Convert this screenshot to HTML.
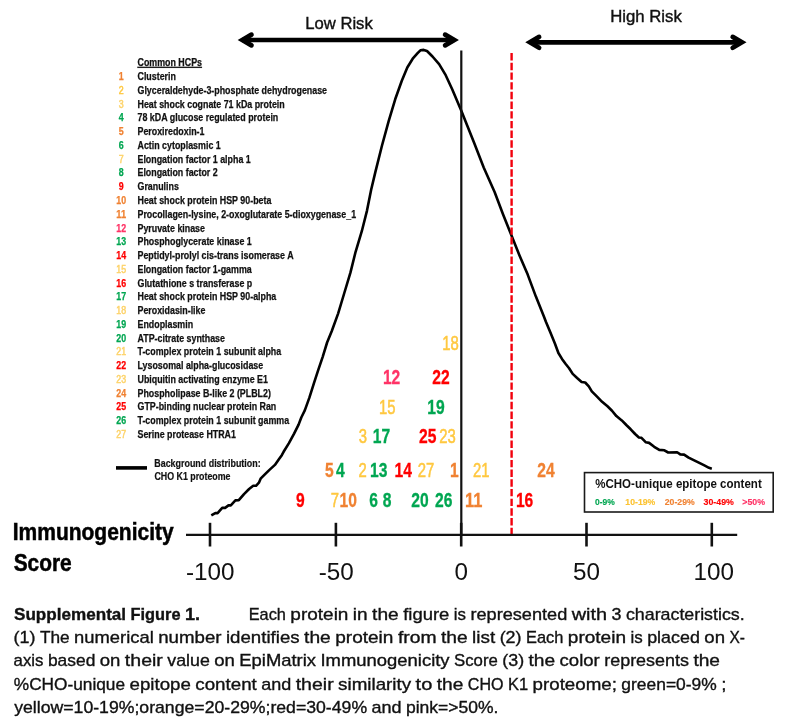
<!DOCTYPE html>
<html lang="en"><head><meta charset="utf-8"><title>Supplemental Figure 1</title>
<style>
html,body{margin:0;padding:0;background:#fff;}
body{width:785px;height:728px;overflow:hidden;}
svg{display:block;filter:blur(0.45px);}
text{font-family:"Liberation Sans",sans-serif;}
.b{font-weight:bold;}
</style></head><body>
<svg width="785" height="728" viewBox="0 0 785 728">
<rect width="785" height="728" fill="#fff"/>
<g fill="none" stroke="#000" stroke-width="4.7"><line x1="242.3" y1="40" x2="454.3" y2="40"/><polyline stroke-linecap="round" stroke-linejoin="miter" points="251.5,34.6 242.3,40 251.5,45.4"/><polyline stroke-linecap="round" stroke-linejoin="miter" points="445.1,34.6 454.3,40 445.1,45.4"/></g>
<g fill="none" stroke="#000" stroke-width="4.7"><line x1="529.9" y1="42.3" x2="741.9" y2="42.3"/><polyline stroke-linecap="round" stroke-linejoin="miter" points="539.1,36.9 529.9,42.3 539.1,47.7"/><polyline stroke-linecap="round" stroke-linejoin="miter" points="732.7,36.9 741.9,42.3 732.7,47.7"/></g>
<text x="305.27" y="28.6" font-size="16.8" textLength="67.46" lengthAdjust="spacingAndGlyphs" fill="#111" stroke="#111" stroke-width="0.4">Low Risk</text>
<text x="610.26" y="22.3" font-size="16.8" textLength="71.57" lengthAdjust="spacingAndGlyphs" fill="#111" stroke="#111" stroke-width="0.4">High Risk</text>
<path d="M211.3,515.4 L215.3,513.1 L217.6,513.1 L222.2,507.9 L225.1,507.9 L228.5,505.4 L230.8,505.4 L235.4,500.4 L238.8,500.2 L244,494.1 L249.1,489 L253.2,485.8 L256,485.8 L258.9,482.7 L260.6,478.7 L264.6,474.7 L269.2,470.1 L274.9,464.9 L278.9,459.2 L281.8,455.2 L283.6,451.8 L288.8,443.4 L294.1,433.6 L298.6,424.6 L301.3,417.5 L304.8,410.4 L309.3,397.9 L313.8,383.6 L318.2,370.2 L322.7,356.8 L327.1,342.5 L331.7,331.2 L338.1,313.6 L344.3,293 L350.5,272.4 L355.6,251.8 L361.8,231.2 L367,210.6 L371.1,190 L375.4,171.9 L382,145.5 L388.6,121.3 L395.2,99.3 L401.8,80.7 L407.3,67.5 L412.7,58.7 L417.6,53.2 L420.4,50.3 L423.7,49.9 L427,51 L432.5,56.5 L439.1,64.2 L445.7,75.2 L452.3,89.5 L457.8,102.6 L461.1,110.3 L467.7,126.8 L474.3,143.3 L483.7,167.5 L494.7,192.2 L503,214.2 L511.2,234.8 L519.5,255.4 L527.7,274.6 L535.9,296.6 L544.2,317.2 L545.9,321.8 L550.4,332.5 L554.8,343.2 L558.4,353 L562,358.9 L565.5,363.8 L569.1,368.2 L572.7,373.9 L577.1,378 L581.6,382 L585.2,382.5 L588.8,386.4 L591.8,391.4 L596.8,396.4 L602.1,401.8 L607.5,406.3 L612,410.7 L616.4,416.1 L621.8,420.4 L626.3,425 L630.7,429.3 L635.1,434 L638.9,437.5 L641.5,437.8 L645.9,442.3 L649.1,442.9 L654.2,446.8 L659.3,449.9 L664.4,450.3 L668.2,452.5 L677.1,452.2 L680.3,454.4 L684.1,454.6 L688.6,457.6 L693.7,460.1 L698.8,462.7 L703.9,465.2 L709,467.8 L711.8,468.7" fill="none" stroke="#000" stroke-width="2.6" stroke-linejoin="round" stroke-linecap="butt"/>
<line x1="461.3" y1="50.5" x2="461.3" y2="534" stroke="#111" stroke-width="2.2"/>
<line x1="511.6" y1="53.1" x2="511.6" y2="534" stroke="#f2000c" stroke-width="2.4" stroke-dasharray="7.4 2.286"/>
<line x1="186" y1="534.8" x2="737.2" y2="534.8" stroke="#111" stroke-width="2.3"/>
<line x1="210" y1="522.8" x2="210" y2="546.5" stroke="#111" stroke-width="2.6"/>
<line x1="335.9" y1="522.8" x2="335.9" y2="546.5" stroke="#111" stroke-width="2.6"/>
<line x1="461.2" y1="522.8" x2="461.2" y2="546.5" stroke="#111" stroke-width="2.6"/>
<line x1="586.5" y1="522.8" x2="586.5" y2="546.5" stroke="#111" stroke-width="2.6"/>
<line x1="711.8" y1="522.8" x2="711.8" y2="546.5" stroke="#111" stroke-width="2.6"/>
<text transform="translate(210.2,579.7) scale(1.055,1)" text-anchor="middle" font-size="23" fill="#111">-100</text>
<text transform="translate(336.2,579.7) scale(1.055,1)" text-anchor="middle" font-size="23" fill="#111">-50</text>
<text transform="translate(461.2,579.7) scale(1.055,1)" text-anchor="middle" font-size="23" fill="#111">0</text>
<text transform="translate(586.5,579.7) scale(1.055,1)" text-anchor="middle" font-size="23" fill="#111">50</text>
<text transform="translate(713.8,579.7) scale(1.055,1)" text-anchor="middle" font-size="23" fill="#111">100</text>
<text class="b" x="12.79" y="540.3" font-size="24" textLength="160.88" lengthAdjust="spacingAndGlyphs" fill="#000" stroke="#000" stroke-width="0.5">Immunogenicity</text>
<text class="b" x="13.63" y="570.8" font-size="24" textLength="58.06" lengthAdjust="spacingAndGlyphs" fill="#000" stroke="#000" stroke-width="0.5">Score</text>
<g class="b" font-size="10.3" stroke-width="0.25">
<text x="137.5" y="65.9" fill="#111" stroke="#111" text-decoration="underline" textLength="64.47" lengthAdjust="spacingAndGlyphs">Common HCPs</text>
<text x="118.74" y="80.10" textLength="4.93" lengthAdjust="spacingAndGlyphs" fill="#f08232" stroke="#f08232">1</text><text x="137.5" y="80.10" textLength="38.39" lengthAdjust="spacingAndGlyphs" fill="#111" stroke="#111">Clusterin</text>
<text x="118.74" y="93.86" font-weight="normal" stroke-width="0.5" textLength="4.93" lengthAdjust="spacingAndGlyphs" fill="#ffc840" stroke="#ffc840">2</text><text x="137.5" y="93.86" textLength="189.52" lengthAdjust="spacingAndGlyphs" fill="#111" stroke="#111">Glyceraldehyde-3-phosphate dehydrogenase</text>
<text x="118.74" y="107.63" font-weight="normal" stroke-width="0.5" textLength="4.93" lengthAdjust="spacingAndGlyphs" fill="#fdd36a" stroke="#fdd36a">3</text><text x="137.5" y="107.63" textLength="147.19" lengthAdjust="spacingAndGlyphs" fill="#111" stroke="#111">Heat shock cognate 71 kDa protein</text>
<text x="118.74" y="121.39" textLength="4.93" lengthAdjust="spacingAndGlyphs" fill="#00a651" stroke="#00a651">4</text><text x="137.5" y="121.39" textLength="140.78" lengthAdjust="spacingAndGlyphs" fill="#111" stroke="#111">78 kDA glucose regulated protein</text>
<text x="118.74" y="135.16" textLength="4.93" lengthAdjust="spacingAndGlyphs" fill="#f08232" stroke="#f08232">5</text><text x="137.5" y="135.16" textLength="66.95" lengthAdjust="spacingAndGlyphs" fill="#111" stroke="#111">Peroxiredoxin-1</text>
<text x="118.74" y="148.93" textLength="4.93" lengthAdjust="spacingAndGlyphs" fill="#00a651" stroke="#00a651">6</text><text x="137.5" y="148.93" textLength="83.20" lengthAdjust="spacingAndGlyphs" fill="#111" stroke="#111">Actin cytoplasmic 1</text>
<text x="118.74" y="162.69" font-weight="normal" stroke-width="0.5" textLength="4.93" lengthAdjust="spacingAndGlyphs" fill="#fdd36a" stroke="#fdd36a">7</text><text x="137.5" y="162.69" textLength="113.20" lengthAdjust="spacingAndGlyphs" fill="#111" stroke="#111">Elongation factor 1 alpha 1</text>
<text x="118.74" y="176.45" textLength="4.93" lengthAdjust="spacingAndGlyphs" fill="#00a651" stroke="#00a651">8</text><text x="137.5" y="176.45" textLength="80.22" lengthAdjust="spacingAndGlyphs" fill="#111" stroke="#111">Elongation factor 2</text>
<text x="118.74" y="190.22" textLength="4.93" lengthAdjust="spacingAndGlyphs" fill="#ff0000" stroke="#ff0000">9</text><text x="137.5" y="190.22" textLength="41.34" lengthAdjust="spacingAndGlyphs" fill="#111" stroke="#111">Granulins</text>
<text x="116.27" y="203.99" textLength="9.85" lengthAdjust="spacingAndGlyphs" fill="#f08232" stroke="#f08232">10</text><text x="137.5" y="203.99" textLength="133.89" lengthAdjust="spacingAndGlyphs" fill="#111" stroke="#111">Heat shock protein HSP 90-beta</text>
<text x="116.27" y="217.75" textLength="9.85" lengthAdjust="spacingAndGlyphs" fill="#f08232" stroke="#f08232">11</text><text x="137.5" y="217.75" textLength="218.57" lengthAdjust="spacingAndGlyphs" fill="#111" stroke="#111">Procollagen-lysine, 2-oxoglutarate 5-dioxygenase_1</text>
<text x="116.27" y="231.52" textLength="9.85" lengthAdjust="spacingAndGlyphs" fill="#ff3366" stroke="#ff3366">12</text><text x="137.5" y="231.52" textLength="67.46" lengthAdjust="spacingAndGlyphs" fill="#111" stroke="#111">Pyruvate kinase</text>
<text x="116.27" y="245.28" textLength="9.85" lengthAdjust="spacingAndGlyphs" fill="#00a651" stroke="#00a651">13</text><text x="137.5" y="245.28" textLength="114.22" lengthAdjust="spacingAndGlyphs" fill="#111" stroke="#111">Phosphoglycerate kinase 1</text>
<text x="116.27" y="259.04" textLength="9.85" lengthAdjust="spacingAndGlyphs" fill="#ff0000" stroke="#ff0000">14</text><text x="137.5" y="259.04" textLength="156.05" lengthAdjust="spacingAndGlyphs" fill="#111" stroke="#111">Peptidyl-prolyl cis-trans isomerase A</text>
<text x="116.27" y="272.81" font-weight="normal" stroke-width="0.5" textLength="9.85" lengthAdjust="spacingAndGlyphs" fill="#fdd36a" stroke="#fdd36a">15</text><text x="137.5" y="272.81" textLength="114.19" lengthAdjust="spacingAndGlyphs" fill="#111" stroke="#111">Elongation factor 1-gamma</text>
<text x="116.27" y="286.58" textLength="9.85" lengthAdjust="spacingAndGlyphs" fill="#ff0000" stroke="#ff0000">16</text><text x="137.5" y="286.58" textLength="114.69" lengthAdjust="spacingAndGlyphs" fill="#111" stroke="#111">Glutathione s transferase p</text>
<text x="116.27" y="300.34" textLength="9.85" lengthAdjust="spacingAndGlyphs" fill="#00a651" stroke="#00a651">17</text><text x="137.5" y="300.34" textLength="138.81" lengthAdjust="spacingAndGlyphs" fill="#111" stroke="#111">Heat shock protein HSP 90-alpha</text>
<text x="116.27" y="314.11" font-weight="normal" stroke-width="0.5" textLength="9.85" lengthAdjust="spacingAndGlyphs" fill="#fdd36a" stroke="#fdd36a">18</text><text x="137.5" y="314.11" textLength="67.94" lengthAdjust="spacingAndGlyphs" fill="#111" stroke="#111">Peroxidasin-like</text>
<text x="116.27" y="327.87" textLength="9.85" lengthAdjust="spacingAndGlyphs" fill="#00a651" stroke="#00a651">19</text><text x="137.5" y="327.87" textLength="55.61" lengthAdjust="spacingAndGlyphs" fill="#111" stroke="#111">Endoplasmin</text>
<text x="116.27" y="341.63" textLength="9.85" lengthAdjust="spacingAndGlyphs" fill="#00a651" stroke="#00a651">20</text><text x="137.5" y="341.63" textLength="87.46" lengthAdjust="spacingAndGlyphs" fill="#111" stroke="#111">ATP-citrate synthase</text>
<text x="116.27" y="355.40" font-weight="normal" stroke-width="0.5" textLength="9.85" lengthAdjust="spacingAndGlyphs" fill="#fdd36a" stroke="#fdd36a">21</text><text x="137.5" y="355.40" textLength="143.71" lengthAdjust="spacingAndGlyphs" fill="#111" stroke="#111">T-complex protein 1 subunit alpha</text>
<text x="116.27" y="369.16" textLength="9.85" lengthAdjust="spacingAndGlyphs" fill="#ff0000" stroke="#ff0000">22</text><text x="137.5" y="369.16" textLength="125.69" lengthAdjust="spacingAndGlyphs" fill="#111" stroke="#111">Lysosomal alpha-glucosidase</text>
<text x="116.27" y="382.93" font-weight="normal" stroke-width="0.5" textLength="9.85" lengthAdjust="spacingAndGlyphs" fill="#fdd36a" stroke="#fdd36a">23</text><text x="137.5" y="382.93" textLength="130.43" lengthAdjust="spacingAndGlyphs" fill="#111" stroke="#111">Ubiquitin activating enzyme E1</text>
<text x="116.27" y="396.70" textLength="9.85" lengthAdjust="spacingAndGlyphs" fill="#f08232" stroke="#f08232">24</text><text x="137.5" y="396.70" textLength="133.38" lengthAdjust="spacingAndGlyphs" fill="#111" stroke="#111">Phospholipase B-like 2 (PLBL2)</text>
<text x="116.27" y="410.46" textLength="9.85" lengthAdjust="spacingAndGlyphs" fill="#ff0000" stroke="#ff0000">25</text><text x="137.5" y="410.46" textLength="138.78" lengthAdjust="spacingAndGlyphs" fill="#111" stroke="#111">GTP-binding nuclear protein Ran</text>
<text x="116.27" y="424.23" textLength="9.85" lengthAdjust="spacingAndGlyphs" fill="#00a651" stroke="#00a651">26</text><text x="137.5" y="424.23" textLength="151.59" lengthAdjust="spacingAndGlyphs" fill="#111" stroke="#111">T-complex protein 1 subunit gamma</text>
<text x="116.27" y="437.99" font-weight="normal" stroke-width="0.5" textLength="9.85" lengthAdjust="spacingAndGlyphs" fill="#fdd36a" stroke="#fdd36a">27</text><text x="137.5" y="437.99" textLength="98.45" lengthAdjust="spacingAndGlyphs" fill="#111" stroke="#111">Serine protease HTRA1</text>
</g>
<line x1="116" y1="467.9" x2="147" y2="467.9" stroke="#000" stroke-width="3.6"/>
<text class="b" x="154.27" y="466.6" font-size="10.2" textLength="106.36" lengthAdjust="spacingAndGlyphs" fill="#111" stroke="#111" stroke-width="0.2">Background distribution:</text>
<text class="b" x="154.45" y="479.5" font-size="10.2" textLength="76.08" lengthAdjust="spacingAndGlyphs" fill="#111" stroke="#111" stroke-width="0.2">CHO K1 proteome</text>
<text x="442.16" y="349.8" font-size="19.8" textLength="16.53" lengthAdjust="spacingAndGlyphs" fill="#ffc840" stroke="#ffc840" stroke-width="0.55">18</text>
<text class="b" x="382.93" y="383.9" font-size="19.8" textLength="17.40" lengthAdjust="spacingAndGlyphs" fill="#ff3366" stroke="#ff3366" stroke-width="0.3">12</text>
<text class="b" x="432.34" y="383.9" font-size="19.8" textLength="17.40" lengthAdjust="spacingAndGlyphs" fill="#ff0000" stroke="#ff0000" stroke-width="0.3">22</text>
<text x="379.08" y="413.6" font-size="19.8" textLength="16.53" lengthAdjust="spacingAndGlyphs" fill="#ffc840" stroke="#ffc840" stroke-width="0.55">15</text>
<text class="b" x="427.36" y="413.6" font-size="19.8" textLength="17.40" lengthAdjust="spacingAndGlyphs" fill="#00a651" stroke="#00a651" stroke-width="0.3">19</text>
<text x="358.77" y="442.6" font-size="19.8" textLength="8.26" lengthAdjust="spacingAndGlyphs" fill="#ffc840" stroke="#ffc840" stroke-width="0.55">3</text>
<text class="b" x="372.81" y="442.6" font-size="19.8" textLength="17.40" lengthAdjust="spacingAndGlyphs" fill="#00a651" stroke="#00a651" stroke-width="0.3">17</text>
<text class="b" x="419.00" y="442.6" font-size="19.8" textLength="17.40" lengthAdjust="spacingAndGlyphs" fill="#ff0000" stroke="#ff0000" stroke-width="0.3">25</text>
<text x="439.25" y="442.6" font-size="19.8" textLength="16.53" lengthAdjust="spacingAndGlyphs" fill="#ffc840" stroke="#ffc840" stroke-width="0.55">23</text>
<text class="b" x="325.08" y="477.0" font-size="19.8" textLength="8.70" lengthAdjust="spacingAndGlyphs" fill="#f08232" stroke="#f08232" stroke-width="0.3">5</text>
<text class="b" x="336.07" y="477.0" font-size="19.8" textLength="8.70" lengthAdjust="spacingAndGlyphs" fill="#00a651" stroke="#00a651" stroke-width="0.3">4</text>
<text x="358.46" y="477.0" font-size="19.8" textLength="8.26" lengthAdjust="spacingAndGlyphs" fill="#ffc840" stroke="#ffc840" stroke-width="0.55">2</text>
<text class="b" x="370.05" y="477.0" font-size="19.8" textLength="17.40" lengthAdjust="spacingAndGlyphs" fill="#00a651" stroke="#00a651" stroke-width="0.3">13</text>
<text class="b" x="394.51" y="477.0" font-size="19.8" textLength="17.40" lengthAdjust="spacingAndGlyphs" fill="#ff0000" stroke="#ff0000" stroke-width="0.3">14</text>
<text x="417.85" y="477.0" font-size="19.8" textLength="16.53" lengthAdjust="spacingAndGlyphs" fill="#ffc840" stroke="#ffc840" stroke-width="0.55">27</text>
<text class="b" x="449.92" y="477.0" font-size="19.8" textLength="8.70" lengthAdjust="spacingAndGlyphs" fill="#f08232" stroke="#f08232" stroke-width="0.3">1</text>
<text x="472.91" y="477.0" font-size="19.8" textLength="16.53" lengthAdjust="spacingAndGlyphs" fill="#ffc840" stroke="#ffc840" stroke-width="0.55">21</text>
<text class="b" x="537.27" y="477.0" font-size="19.8" textLength="17.40" lengthAdjust="spacingAndGlyphs" fill="#f08232" stroke="#f08232" stroke-width="0.3">24</text>
<text class="b" x="295.92" y="506.5" font-size="19.8" textLength="8.70" lengthAdjust="spacingAndGlyphs" fill="#ff0000" stroke="#ff0000" stroke-width="0.3">9</text>
<text x="330.68" y="506.5" font-size="19.8" textLength="8.26" lengthAdjust="spacingAndGlyphs" fill="#ffc840" stroke="#ffc840" stroke-width="0.55">7</text>
<text class="b" x="339.59" y="506.5" font-size="19.8" textLength="17.40" lengthAdjust="spacingAndGlyphs" fill="#f08232" stroke="#f08232" stroke-width="0.3">10</text>
<text class="b" x="369.30" y="506.5" font-size="19.8" textLength="8.70" lengthAdjust="spacingAndGlyphs" fill="#00a651" stroke="#00a651" stroke-width="0.3">6</text>
<text class="b" x="382.64" y="506.5" font-size="19.8" textLength="8.70" lengthAdjust="spacingAndGlyphs" fill="#00a651" stroke="#00a651" stroke-width="0.3">8</text>
<text class="b" x="411.35" y="506.5" font-size="19.8" textLength="17.40" lengthAdjust="spacingAndGlyphs" fill="#00a651" stroke="#00a651" stroke-width="0.3">20</text>
<text class="b" x="435.01" y="506.5" font-size="19.8" textLength="17.40" lengthAdjust="spacingAndGlyphs" fill="#00a651" stroke="#00a651" stroke-width="0.3">26</text>
<text class="b" x="465.02" y="506.5" font-size="19.8" textLength="17.40" lengthAdjust="spacingAndGlyphs" fill="#f08232" stroke="#f08232" stroke-width="0.3">11</text>
<text class="b" x="515.90" y="506.5" font-size="19.8" textLength="17.40" lengthAdjust="spacingAndGlyphs" fill="#ff0000" stroke="#ff0000" stroke-width="0.3">16</text>
<rect x="584.5" y="472.6" width="188.7" height="39.4" fill="#fff" stroke="#1a1a1a" stroke-width="1.6"/>
<text class="b" x="595.17" y="487.9" font-size="13.3" textLength="166.57" lengthAdjust="spacingAndGlyphs" fill="#111">%CHO-unique epitope content</text>
<text class="b" x="595.02" y="504.8" font-size="9.8" textLength="19.87" lengthAdjust="spacingAndGlyphs" fill="#00a651" stroke="#00a651" stroke-width="0.15">0-9%</text>
<text class="b" x="625.35" y="504.8" font-size="9.8" textLength="29.94" lengthAdjust="spacingAndGlyphs" fill="#fcc331" stroke="#fcc331" stroke-width="0.15">10-19%</text>
<text class="b" x="664.81" y="504.8" font-size="9.8" textLength="29.88" lengthAdjust="spacingAndGlyphs" fill="#f08232" stroke="#f08232" stroke-width="0.15">20-29%</text>
<text class="b" x="703.60" y="504.8" font-size="9.8" textLength="30.29" lengthAdjust="spacingAndGlyphs" fill="#ff0000" stroke="#ff0000" stroke-width="0.15">30-49%</text>
<text class="b" x="742.32" y="504.8" font-size="9.8" textLength="22.77" lengthAdjust="spacingAndGlyphs" fill="#ff3366" stroke="#ff3366" stroke-width="0.15">&gt;50%</text>
<g font-size="16.6" fill="#111" stroke="#111" stroke-width="0.35">
<text y="619.6" class="b"> <tspan x="14.01" textLength="112.14" lengthAdjust="spacingAndGlyphs">Supplemental</tspan> <tspan x="130.55" textLength="49.97" lengthAdjust="spacingAndGlyphs">Figure</tspan> <tspan x="184.92" textLength="15.09" lengthAdjust="spacingAndGlyphs">1.</tspan> </text>
<text y="619.6"> <tspan x="248.73" textLength="37.22" lengthAdjust="spacingAndGlyphs">Each</tspan> <tspan x="290.38" textLength="58.06" lengthAdjust="spacingAndGlyphs">protein</tspan> <tspan x="352.88" textLength="14.80" lengthAdjust="spacingAndGlyphs">in</tspan> <tspan x="372.10" textLength="26.62" lengthAdjust="spacingAndGlyphs">the</tspan> <tspan x="403.15" textLength="46.23" lengthAdjust="spacingAndGlyphs">figure</tspan> <tspan x="453.82" textLength="12.17" lengthAdjust="spacingAndGlyphs">is</tspan> <tspan x="470.41" textLength="96.90" lengthAdjust="spacingAndGlyphs">represented</tspan> <tspan x="571.75" textLength="35.38" lengthAdjust="spacingAndGlyphs">with</tspan> <tspan x="611.56" textLength="9.94" lengthAdjust="spacingAndGlyphs">3</tspan> <tspan x="625.92" textLength="118.80" lengthAdjust="spacingAndGlyphs">characteristics.</tspan> </text>
<text y="643.0"> <tspan x="13.62" textLength="21.90" lengthAdjust="spacingAndGlyphs">(1)</tspan> <tspan x="39.97" textLength="29.70" lengthAdjust="spacingAndGlyphs">The</tspan> <tspan x="74.11" textLength="79.62" lengthAdjust="spacingAndGlyphs">numerical</tspan> <tspan x="158.18" textLength="63.35" lengthAdjust="spacingAndGlyphs">number</tspan> <tspan x="225.98" textLength="73.63" lengthAdjust="spacingAndGlyphs">identifies</tspan> <tspan x="304.06" textLength="26.71" lengthAdjust="spacingAndGlyphs">the</tspan> <tspan x="335.21" textLength="58.25" lengthAdjust="spacingAndGlyphs">protein</tspan> <tspan x="397.91" textLength="38.62" lengthAdjust="spacingAndGlyphs">from</tspan> <tspan x="440.98" textLength="26.71" lengthAdjust="spacingAndGlyphs">the</tspan> <tspan x="472.14" textLength="23.09" lengthAdjust="spacingAndGlyphs">list</tspan> <tspan x="499.67" textLength="21.90" lengthAdjust="spacingAndGlyphs">(2)</tspan> <tspan x="526.01" textLength="37.35" lengthAdjust="spacingAndGlyphs">Each</tspan> <tspan x="567.81" textLength="58.25" lengthAdjust="spacingAndGlyphs">protein</tspan> <tspan x="630.51" textLength="12.21" lengthAdjust="spacingAndGlyphs">is</tspan> <tspan x="647.16" textLength="52.70" lengthAdjust="spacingAndGlyphs">placed</tspan> <tspan x="704.31" textLength="20.70" lengthAdjust="spacingAndGlyphs">on</tspan> <tspan x="729.46" textLength="15.45" lengthAdjust="spacingAndGlyphs">X-</tspan> </text>
<text y="666.4"> <tspan x="13.62" textLength="29.88" lengthAdjust="spacingAndGlyphs">axis</tspan> <tspan x="47.93" textLength="47.43" lengthAdjust="spacingAndGlyphs">based</tspan> <tspan x="99.79" textLength="20.65" lengthAdjust="spacingAndGlyphs">on</tspan> <tspan x="124.87" textLength="37.97" lengthAdjust="spacingAndGlyphs">their</tspan> <tspan x="167.27" textLength="42.53" lengthAdjust="spacingAndGlyphs">value</tspan> <tspan x="214.23" textLength="20.65" lengthAdjust="spacingAndGlyphs">on</tspan> <tspan x="239.31" textLength="76.76" lengthAdjust="spacingAndGlyphs">EpiMatrix</tspan> <tspan x="320.51" textLength="129.09" lengthAdjust="spacingAndGlyphs">Immunogenicity</tspan> <tspan x="454.04" textLength="43.82" lengthAdjust="spacingAndGlyphs">Score</tspan> <tspan x="502.29" textLength="21.83" lengthAdjust="spacingAndGlyphs">(3)</tspan> <tspan x="528.56" textLength="26.63" lengthAdjust="spacingAndGlyphs">the</tspan> <tspan x="559.62" textLength="40.15" lengthAdjust="spacingAndGlyphs">color</tspan> <tspan x="604.21" textLength="84.77" lengthAdjust="spacingAndGlyphs">represents</tspan> <tspan x="693.41" textLength="26.63" lengthAdjust="spacingAndGlyphs">the</tspan> </text>
<text y="689.9"> <tspan x="13.81" textLength="111.24" lengthAdjust="spacingAndGlyphs">%CHO-unique</tspan> <tspan x="129.49" textLength="61.39" lengthAdjust="spacingAndGlyphs">epitope</tspan> <tspan x="195.32" textLength="61.45" lengthAdjust="spacingAndGlyphs">content</tspan> <tspan x="261.20" textLength="30.02" lengthAdjust="spacingAndGlyphs">and</tspan> <tspan x="295.66" textLength="38.00" lengthAdjust="spacingAndGlyphs">their</tspan> <tspan x="338.10" textLength="73.07" lengthAdjust="spacingAndGlyphs">similarity</tspan> <tspan x="415.61" textLength="16.73" lengthAdjust="spacingAndGlyphs">to</tspan> <tspan x="436.77" textLength="26.65" lengthAdjust="spacingAndGlyphs">the</tspan> <tspan x="467.86" textLength="35.69" lengthAdjust="spacingAndGlyphs">CHO</tspan> <tspan x="507.99" textLength="20.14" lengthAdjust="spacingAndGlyphs">K1</tspan> <tspan x="532.57" textLength="84.36" lengthAdjust="spacingAndGlyphs">proteome;</tspan> <tspan x="621.37" textLength="95.37" lengthAdjust="spacingAndGlyphs">green=0-9%</tspan> <tspan x="721.17" textLength="5.25" lengthAdjust="spacingAndGlyphs">;</tspan> </text>
<text y="713.3"> <tspan x="14.20" textLength="352.90" lengthAdjust="spacingAndGlyphs">yellow=10-19%;orange=20-29%;red=30-49%</tspan> <tspan x="371.53" textLength="30.01" lengthAdjust="spacingAndGlyphs">and</tspan> <tspan x="405.98" textLength="92.44" lengthAdjust="spacingAndGlyphs">pink=&gt;50%.</tspan> </text>
</g>
</svg>
</body></html>
